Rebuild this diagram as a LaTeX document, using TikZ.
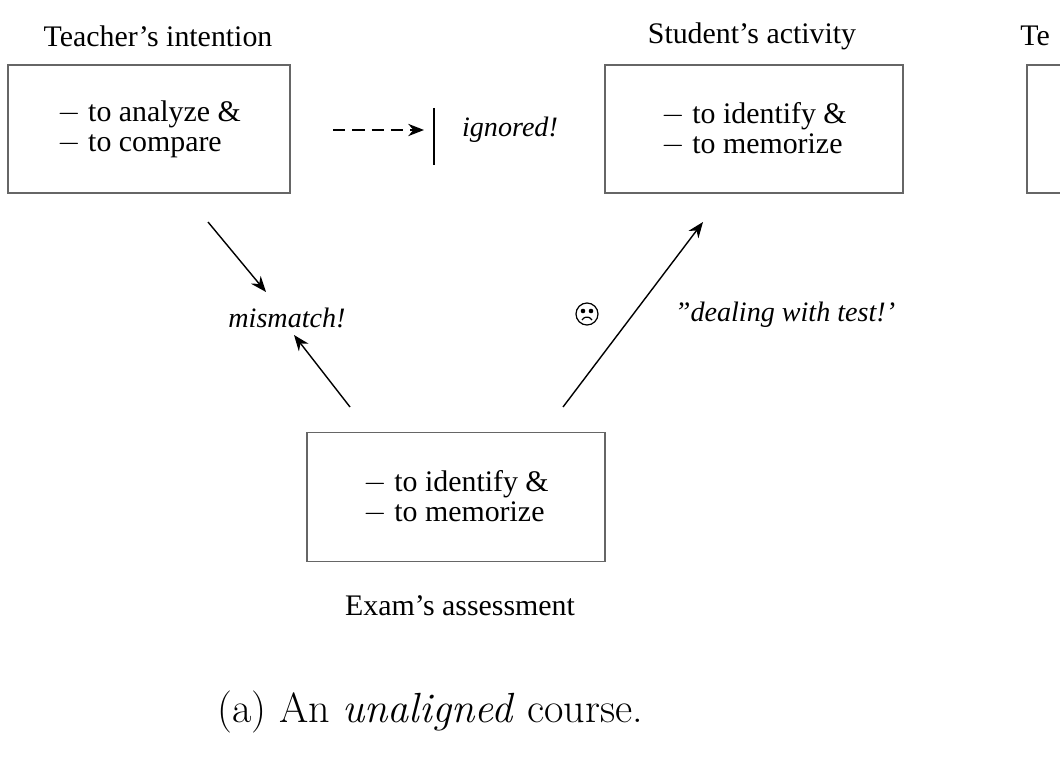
\documentclass[tikz,border=0pt]{standalone}
\usepackage{fontspec}
\setmainfont{Liberation Serif}
\newfontfamily\lmfont{Latin Modern Roman}
\usetikzlibrary{arrows.meta}
\begin{document}
\begin{tikzpicture}[x=0.02cm,y=-0.02cm,
  box/.style={draw=black!60,line width=0.8pt,inner sep=0pt},
  lbl/.style={font=\fontsize{17}{20}\selectfont},
  itl/.style={font=\fontsize{16}{19}\selectfont\itshape},
  arr/.style={-{Stealth[length=9pt,width=7pt]},line width=0.8pt}]
\useasboundingbox (0,0) rectangle (1060,773);
\clip (0,0) rectangle (1060,773);
\node[box,minimum width=282*0.02cm,minimum height=128*0.02cm] (t) at (149,129) {};
\node[lbl,align=left] at (t) {$-$ to analyze \&\\[-3pt]$-$ to compare};
\node[lbl] (tt) at (158,36) {Teacher's intention};
\node[box,minimum width=298*0.02cm,minimum height=128*0.02cm] (s) at (754,129) {};
\node[lbl,align=left] at (s) {$-$ to identify \&\\[-3pt]$-$ to memorize};
\node[lbl] (st) at (752,36) {Student's activity};
\node[box,minimum width=200*0.02cm,minimum height=128*0.02cm] (r) at (1127,129) {};
\node[lbl,anchor=west,inner xsep=0pt] (rt) at (1020,36) {Te};
\node[box,minimum width=298*0.02cm,minimum height=129*0.02cm] (e) at (456,497) {};
\node[lbl,align=left] at (e) {$-$ to identify \&\\[-3pt]$-$ to memorize};
\node[lbl] (et) at (460,606) {Exam's assessment};
\node[font=\lmfont\fontsize{24}{28}\selectfont] (cap) at (430,712) {(a) An \textit{unaligned} course.};
\coordinate (d1) at (333,130); \coordinate (d2) at (424,130);
\draw[arr,dash pattern=on 7pt off 4pt] (d1) -- (d2);
\coordinate (b1) at (434,108); \coordinate (b2) at (434,165);
\draw[line width=1pt] (b1) -- (b2);
\node[itl] (ig) at (510,130) {ignored!};
\node[itl] (mm) at (287,318) {mismatch!};
\coordinate (a1) at (208,222); \coordinate (a2) at (266,292);
\draw[arr] (a1) -- (a2);
\coordinate (a3) at (350,407); \coordinate (a4) at (294,335);
\draw[arr] (a3) -- (a4);
\coordinate (a5) at (563,407); \coordinate (a6) at (703,222);
\draw[arr] (a5) -- (a6);
\node[itl] (dw) at (785,315) {\symbol{34}dealing with test!\symbol{39}};
\node[draw,circle,minimum size=22*0.02cm,line width=0.7pt,inner sep=0pt] (sad) at (587,314) {};
\fill ([shift={(-4,-3)}]sad.center) circle (1.3pt) ([shift={(4,-3)}]sad.center) circle (1.3pt);
\draw[line width=0.7pt] ([shift={(-5,6)}]sad.center) arc[start angle=150,end angle=30,radius=5.8*0.02cm];
\end{tikzpicture}
\end{document}
